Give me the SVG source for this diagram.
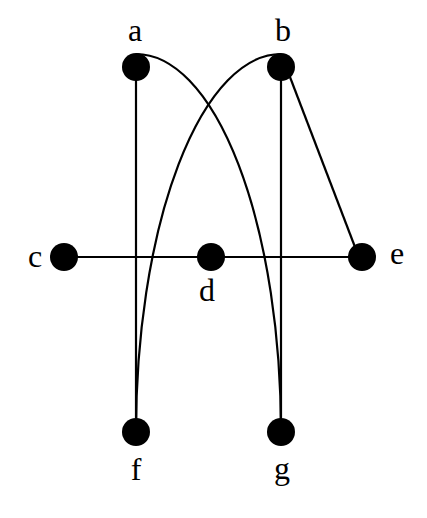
<svg xmlns="http://www.w3.org/2000/svg" width="427" height="518" viewBox="0 0 427 518">
<style>
.edge{fill:none;stroke:#000;stroke-width:2.2}
.node{fill:#000}
.lbl{font-family:"Liberation Serif","Times New Roman",serif;font-size:32px;fill:#000;text-anchor:middle}
</style>
<rect width="427" height="518" fill="#fff"/>
<g id="connectors">
<line class="edge" x1="136" y1="67" x2="136" y2="432"/>
<line class="edge" x1="281" y1="67" x2="281" y2="432"/>
<line class="edge" x1="64" y1="257" x2="362" y2="257"/>
<line class="edge" x1="287.3" y1="70" x2="356.9" y2="252"/>
<path class="edge" d="M136,54 A145,378 0 0 1 281,432"/>
<path class="edge" d="M281,54 A145,378 0 0 0 136,432"/>
</g>
<g id="node-a"><circle class="node" cx="136" cy="67" r="14"/><text class="lbl" x="135" y="41">a</text></g>
<g id="node-b"><circle class="node" cx="281" cy="67" r="14"/><text class="lbl" x="283" y="41">b</text></g>
<g id="node-c"><circle class="node" cx="64" cy="257" r="14"/><text class="lbl" x="35" y="267">c</text></g>
<g id="node-d"><circle class="node" cx="211" cy="257" r="14"/><text class="lbl" x="207" y="301">d</text></g>
<g id="node-e"><circle class="node" cx="362" cy="257" r="14"/><text class="lbl" x="397" y="264">e</text></g>
<g id="node-f"><circle class="node" cx="136" cy="432" r="14"/><text class="lbl" x="136" y="480">f</text></g>
<g id="node-g"><circle class="node" cx="281" cy="432" r="14"/><text class="lbl" x="282" y="479">g</text></g>
</svg>
